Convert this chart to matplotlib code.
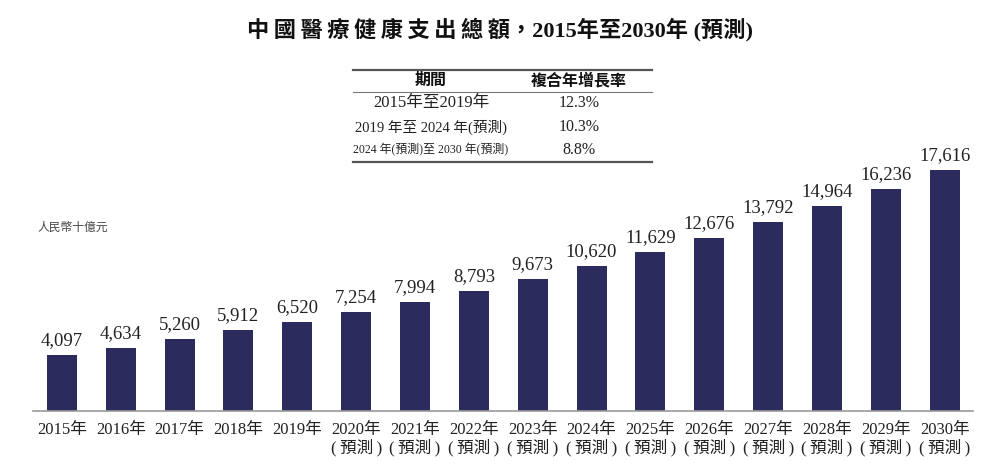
import matplotlib
matplotlib.use("Agg")
import matplotlib.pyplot as plt
from matplotlib.lines import Line2D

plt.rcParams['font.family'] = ['Liberation Serif', 'Noto Sans CJK TC', 'DejaVu Sans']

years = ["2015年", "2016年", "2017年", "2018年", "2019年", "2020年", "2021年", "2022年",
         "2023年", "2024年", "2025年", "2026年", "2027年", "2028年", "2029年", "2030年"]
forecast = [False]*5 + [True]*11
values = [4097, 4634, 5260, 5912, 6520, 7254, 7994, 8793, 9673, 10620,
          11629, 12676, 13792, 14964, 16236, 17616]

title_cn = "中國醫療健康支出總額"
title_rest = "，2015年至2030年 (預測)"
unit_label = "人民幣十億元"
table_header = ["期間", "複合年增長率"]
table_periods = ["2015年至2019年", "2019 年至 2024 年(預測)", "2024 年(預測)至 2030 年(預測)"]
table_cagr = ["12.3%", "10.3%", "8.8%"]

bar_color = "#2c2b5e"
W, H = 1000, 472
fig = plt.figure(figsize=(W/100, H/100), dpi=100)
ax = fig.add_axes([33/W, (H-411)/H, (973-33)/W, 261/H])

x = list(range(len(values)))
ax.bar(x, values, width=0.51, color=bar_color, zorder=2)
ax.set_xlim(-0.49, len(values) - 1 + 0.48)
ax.set_ylim(0, 19078)
for s in ["top", "right", "left"]:
    ax.spines[s].set_visible(False)
ax.spines["bottom"].set_color("#9a9a9a")
ax.spines["bottom"].set_linewidth(1.2)
ax.set_yticks([])
ax.set_xticks(x)
labels = [y + ("\n(\u2009預測\u2009)" if f else "") for y, f in zip(years, forecast)]
ax.set_xticklabels(labels, fontsize=12, color="#222222", linespacing=1.05)
ax.tick_params(axis="x", length=0, pad=8)

for xi, v in zip(x, values):
    ax.text(xi, v + 420, f"{v:,}", ha="center", va="bottom", fontsize=13.5, color="#222222")

title = "\u2009".join(title_cn) + title_rest
fig.text(0.5, 1 - 30/H, title, ha="center", va="center", fontsize=16,
         fontweight="bold", color="#111111")
fig.text(37/W, 1 - 228/H, unit_label, ha="left", va="center", fontsize=8.5, color="#444444")

# table
x0, x1 = 353/W, 652/W
def yf(py):
    return 1 - py/H
fig.add_artist(Line2D([x0, x1], [yf(70), yf(70)], color="#555555", lw=1.6))
fig.add_artist(Line2D([x0, x1], [yf(92), yf(92)], color="#777777", lw=0.8))
fig.add_artist(Line2D([x0, x1], [yf(162), yf(162)], color="#555555", lw=1.6))
c1, c2 = 431/W, 579/W
fig.text(c1, yf(81), table_header[0], ha="center", va="center", fontsize=11.5, fontweight="bold", color="#111111")
fig.text(c2, yf(81), table_header[1], ha="center", va="center", fontsize=11.5, fontweight="bold", color="#111111")
row_y = [103, 127, 150]
row_fs = [12, 10.5, 8.6]
for ry, p, c, fs in zip(row_y, table_periods, table_cagr, row_fs):
    fig.text(c1, yf(ry), p, ha="center", va="center", fontsize=fs, color="#222222")
    fig.text(c2, yf(ry), c, ha="center", va="center", fontsize=11.5, color="#222222")

fig.savefig("out.png", dpi=100, facecolor="white")
